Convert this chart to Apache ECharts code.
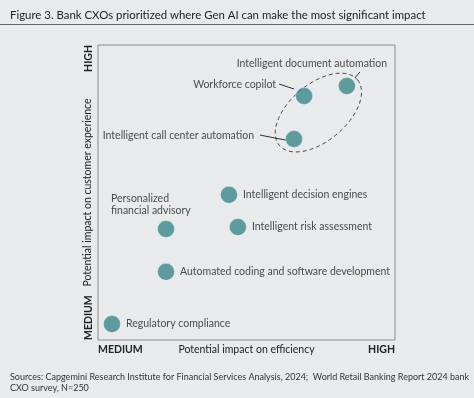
<!DOCTYPE html>
<html>
<head>
<meta charset="utf-8">
<script src="https://cdn.jsdelivr.net/npm/echarts@6/dist/echarts.min.js"></script>
<style>
html, body { margin: 0; padding: 0; background: #e9eaeb; }
#chart { width: 474px; height: 398px; }
</style>
</head>
<body>
<div id="chart"></div>
<script>
// use cases, in the order they are drawn
var useCases = [
	'Intelligent document automation',
	'Workforce copilot',
	'Intelligent call center automation',
	'Intelligent decision engines',
	'Intelligent risk assessment',
	'Personalized\nfinancial advisory',
	'Automated coding and software development',
	'Regulatory compliance'
];
// potential impact on efficiency (0 = medium, 10 = high)
var efficiency = [8.38, 6.94, 6.6, 4.41, 4.71, 2.29, 2.29, 0.47];
// potential impact on customer experience (0 = medium, 10 = high)
var experience = [8.61, 8.27, 6.81, 4.92, 3.83, 3.76, 2.31, 0.54];
var xTicks = ['MEDIUM', 'HIGH'];
var yTicks = ['MEDIUM', 'HIGH'];

var FONT = 'Lato';
var TEAL = '#3a878b';

// where each label goes relative to its dot (px)
var labelPlace = [
	{ position: 'top', dx: -35, dy: -2 },
	{ position: 'left', dx: -14, dy: -11 },
	{ position: 'left', dx: -26, dy: -3 },
	{ position: 'right' },
	{ position: 'right' },
	{ position: 'top', align: 'left', dx: -55, dy: 2 },
	{ position: 'right' },
	{ position: 'right' }
];
// short leader lines from label to dot, px offsets from the dot centre
var leaders = [
	{ idx: 0, from: [13, -14], to: [8, -8] },
	{ idx: 1, from: [-25, -12], to: [-10, -7] },
	{ idx: 2, from: [-34, -4], to: [-8, 1] }
];

var points = [];
for (var i = 0; i < useCases.length; i++) {
	var lp = labelPlace[i];
	var lab = { position: lp.position, distance: 5 };
	if (lp.align) lab.align = lp.align;
	points.push({
		name: useCases[i],
		value: [efficiency[i], experience[i]],
		label: lab
	});
}

var chart = echarts.init(document.getElementById('chart'));
var option = {
	backgroundColor: '#e9eaeb',
	animation: false,
	textStyle: { fontFamily: FONT },
	title: {
		text: 'Figure 3. Bank CXOs prioritized where Gen AI can make the most significant impact',
		left: 5,
		top: 5,
		textStyle: { fontFamily: FONT, fontSize: 11.4, fontWeight: 'normal', color: '#222' }
	},
	grid: {
		left: 98, top: 45, right: 79, bottom: 58,
		show: true, borderColor: '#8a8a8a', borderWidth: 1,
		backgroundColor: 'transparent'
	},
	xAxis: {
		type: 'value', min: 0, max: 10, interval: 10,
		name: 'Potential impact on efficiency',
		nameLocation: 'middle', nameGap: 4, nameMoveOverlap: false,
		nameTextStyle: { fontFamily: FONT, fontSize: 10.5, color: '#222', verticalAlign: 'top' },
		axisLine: { show: false }, axisTick: { show: false }, splitLine: { show: false },
		axisLabel: {
			margin: 4, fontFamily: FONT, fontSize: 10.5, fontWeight: 'bold', color: '#222',
			alignMinLabel: 'left', alignMaxLabel: 'right',
			formatter: function (v) { return v === 0 ? xTicks[0] : xTicks[1]; }
		}
	},
	yAxis: {
		type: 'value', min: 0, max: 10, interval: 10,
		name: 'Potential impact on customer experience',
		nameLocation: 'middle', nameGap: 5, nameRotate: 90, nameMoveOverlap: false,
		nameTextStyle: { fontFamily: FONT, fontSize: 10.5, color: '#222' },
		axisLine: { show: false }, axisTick: { show: false }, splitLine: { show: false },
		axisLabel: {
			margin: 4, rotate: 90, fontFamily: FONT, fontSize: 10.5, fontWeight: 'bold', color: '#222',
			alignMinLabel: 'left', alignMaxLabel: 'right',
			formatter: function (v) { return v === 0 ? yTicks[0] : yTicks[1]; }
		}
	},
	series: [{
		type: 'scatter',
		symbolSize: 17,
		itemStyle: { color: TEAL, borderColor: 'rgba(255,255,255,0.4)', borderWidth: 1 },
		label: {
			show: true,
			formatter: '{b}',
			fontFamily: FONT, fontSize: 10.5, color: '#222', lineHeight: 12
		},
		labelLayout: function (p) {
			var lp = labelPlace[p.dataIndex];
			return { dx: lp.dx || 0, dy: lp.dy || 0 };
		},
		emphasis: { disabled: true },
		data: points
	}]
};
chart.setOption(option);

var extras = [{
	type: 'line',
	id: 'titleRule',
	shape: { x1: 0, y1: 24.5, x2: 474, y2: 24.5 },
	style: { stroke: '#666', lineWidth: 1.2 },
	silent: true
}, {
	type: 'text',
	id: 'sources',
	left: 10,
	top: 372,
	style: {
		text: 'Sources: Capgemini Research Institute for Financial Services Analysis, 2024;  World Retail Banking Report 2024 bank\nCXO survey, N=250',
		fontFamily: FONT,
		fontSize: 9,
		fill: '#333',
		lineHeight: 11
	},
	silent: true
}];

leaders.forEach(function (l) {
	var c = chart.convertToPixel({ gridIndex: 0 }, [efficiency[l.idx], experience[l.idx]]);
	extras.push({
		type: 'line',
		id: 'leader' + l.idx,
		shape: { x1: c[0] + l.from[0], y1: c[1] + l.from[1], x2: c[0] + l.to[0], y2: c[1] + l.to[1] },
		style: { stroke: '#333', lineWidth: 1 },
		silent: true
	});
});

// dashed ellipse round the three top use cases
var ringCentre = chart.convertToPixel({ gridIndex: 0 }, [7.42, 7.71]);
var ringA = 51, ringB = 28.5, tilt = 40 * Math.PI / 180;
var ringPts = [];
for (var k = 0; k < 90; k++) {
	var t = k / 90 * Math.PI * 2;
	ringPts.push([
		ringCentre[0] + ringA * Math.cos(t) * Math.cos(tilt) + ringB * Math.sin(t) * Math.sin(tilt),
		ringCentre[1] - ringA * Math.cos(t) * Math.sin(tilt) + ringB * Math.sin(t) * Math.cos(tilt)
	]);
}
extras.push({
	type: 'polygon',
	id: 'ring',
	shape: { points: ringPts },
	style: { fill: 'none', stroke: '#444', lineWidth: 1, lineDash: [4, 3] },
	silent: true
});

chart.setOption({ graphic: extras });
</script>
</body>
</html>
